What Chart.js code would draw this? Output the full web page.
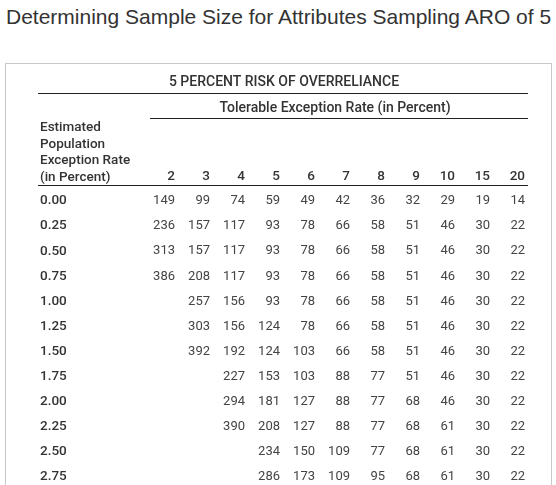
<!DOCTYPE html>
<html>
<head>
<meta charset="utf-8">
<script src="https://cdn.jsdelivr.net/npm/chart.js@4/dist/chart.umd.min.js"></script>
<style>
  body { margin: 0; background: #fff; width: 556px; height: 485px; overflow: hidden; position: relative; }
  #title { position: absolute; left: 6px; top: 5px; white-space: nowrap; font: 21px "Liberation Sans", Arial, sans-serif; color: #333; }
  #wrap { position: absolute; left: 0; top: 0; width: 556px; height: 485px; }
</style>
</head>
<body>
<div id="title">Determining Sample Size for Attributes Sampling ARO of 5</div>
<div id="wrap"><canvas id="tableChart"></canvas></div>
<script>
document.addEventListener("DOMContentLoaded", function () {

    // tolerable exception rates (column headers)
    const tolerableRates = ['2', '3', '4', '5', '6', '7', '8', '9', '10', '15', '20'];

    // estimated population exception rates (row labels)
    const populationRates = ['0.00', '0.25', '0.50', '0.75', '1.00', '1.25', '1.50', '1.75', '2.00', '2.25', '2.50', '2.75'];

    // sample sizes, one array per row (null = blank cell)
    const row000 = [149, 99, 74, 59, 49, 42, 36, 32, 29, 19, 14];
    const row025 = [236, 157, 117, 93, 78, 66, 58, 51, 46, 30, 22];
    const row050 = [313, 157, 117, 93, 78, 66, 58, 51, 46, 30, 22];
    const row075 = [386, 208, 117, 93, 78, 66, 58, 51, 46, 30, 22];
    const row100 = [null, 257, 156, 93, 78, 66, 58, 51, 46, 30, 22];
    const row125 = [null, 303, 156, 124, 78, 66, 58, 51, 46, 30, 22];
    const row150 = [null, 392, 192, 124, 103, 66, 58, 51, 46, 30, 22];
    const row175 = [null, null, 227, 153, 103, 88, 77, 51, 46, 30, 22];
    const row200 = [null, null, 294, 181, 127, 88, 77, 68, 46, 30, 22];
    const row225 = [null, null, 390, 208, 127, 88, 77, 68, 61, 30, 22];
    const row250 = [null, null, null, 234, 150, 109, 77, 68, 61, 30, 22];
    const row275 = [null, null, null, 286, 173, 109, 95, 68, 61, 30, 22];

    const sampleSizes = [row000, row025, row050, row075, row100, row125, row150, row175, row200, row225, row250, row275];

    const FONT = 'Roboto, sans-serif';

    /**
     * draw the table text and rules using the chart scales
     */
    const tablePlugin = {
        id: 'tablePlugin',
        afterDraw: function (chart) {
            const ctx = chart.ctx;
            const xs = chart.scales.x;
            const ys = chart.scales.y;
            const top = ys.getPixelForValue(0);

            ctx.save();

            // outer box
            ctx.strokeStyle = '#c8c8c8';
            ctx.lineWidth = 1;
            ctx.strokeRect(5.5, 63.5, 546, 440);

            ctx.textBaseline = 'middle';
            ctx.fillStyle = '#333';

            ctx.font = '500 14px ' + FONT;
            ctx.textAlign = 'center';
            ctx.fillText('5 PERCENT RISK OF OVERRELIANCE', 284, 82);
            ctx.fillText('Tolerable Exception Rate (in Percent)', 335, 108);

            ctx.strokeStyle = '#222';
            ctx.beginPath();
            ctx.moveTo(38, 93.5); ctx.lineTo(528, 93.5);
            ctx.moveTo(150, 118.5); ctx.lineTo(528, 118.5);
            ctx.moveTo(38, top - 15.5); ctx.lineTo(528, top - 15.5);
            ctx.stroke();

            ctx.font = '500 13.5px ' + FONT;
            ctx.textAlign = 'left';
            ['Estimated', 'Population', 'Exception Rate', '(in Percent)'].forEach(function (t, i) {
                ctx.fillText(t, 40, 128 + i * 16.5);
            });

            // column headers
            ctx.textAlign = 'right';
            tolerableRates.forEach(function (lab, i) {
                ctx.fillText(lab, xs.getPixelForValue(i), top - 24);
            });

            // row labels
            ctx.textAlign = 'left';
            populationRates.forEach(function (lab, j) {
                ctx.fillText(lab, 40, ys.getPixelForValue(j));
            });

            // cells
            ctx.font = '13px ' + FONT;
            ctx.fillStyle = '#444';
            ctx.textAlign = 'right';
            sampleSizes.forEach(function (row, j) {
                row.forEach(function (v, i) {
                    if (v === null) return;
                    ctx.fillText(String(v), xs.getPixelForValue(i), ys.getPixelForValue(j));
                });
            });

            ctx.restore();
        }
    };

    new Chart(document.getElementById('tableChart'), {
        type: 'scatter',
        data: { datasets: [] },
        options: {
            responsive: true,
            maintainAspectRatio: false,
            animation: false,
            layout: { padding: { left: 175, right: 31, top: 201, bottom: 8 } },
            plugins: { legend: { display: false }, tooltip: { enabled: false } },
            scales: {
                x: { type: 'category', labels: tolerableRates, offset: false, display: false },
                y: { type: 'category', labels: populationRates, offset: false, display: false }
            }
        },
        plugins: [tablePlugin]
    });
});
</script>
</body>
</html>
